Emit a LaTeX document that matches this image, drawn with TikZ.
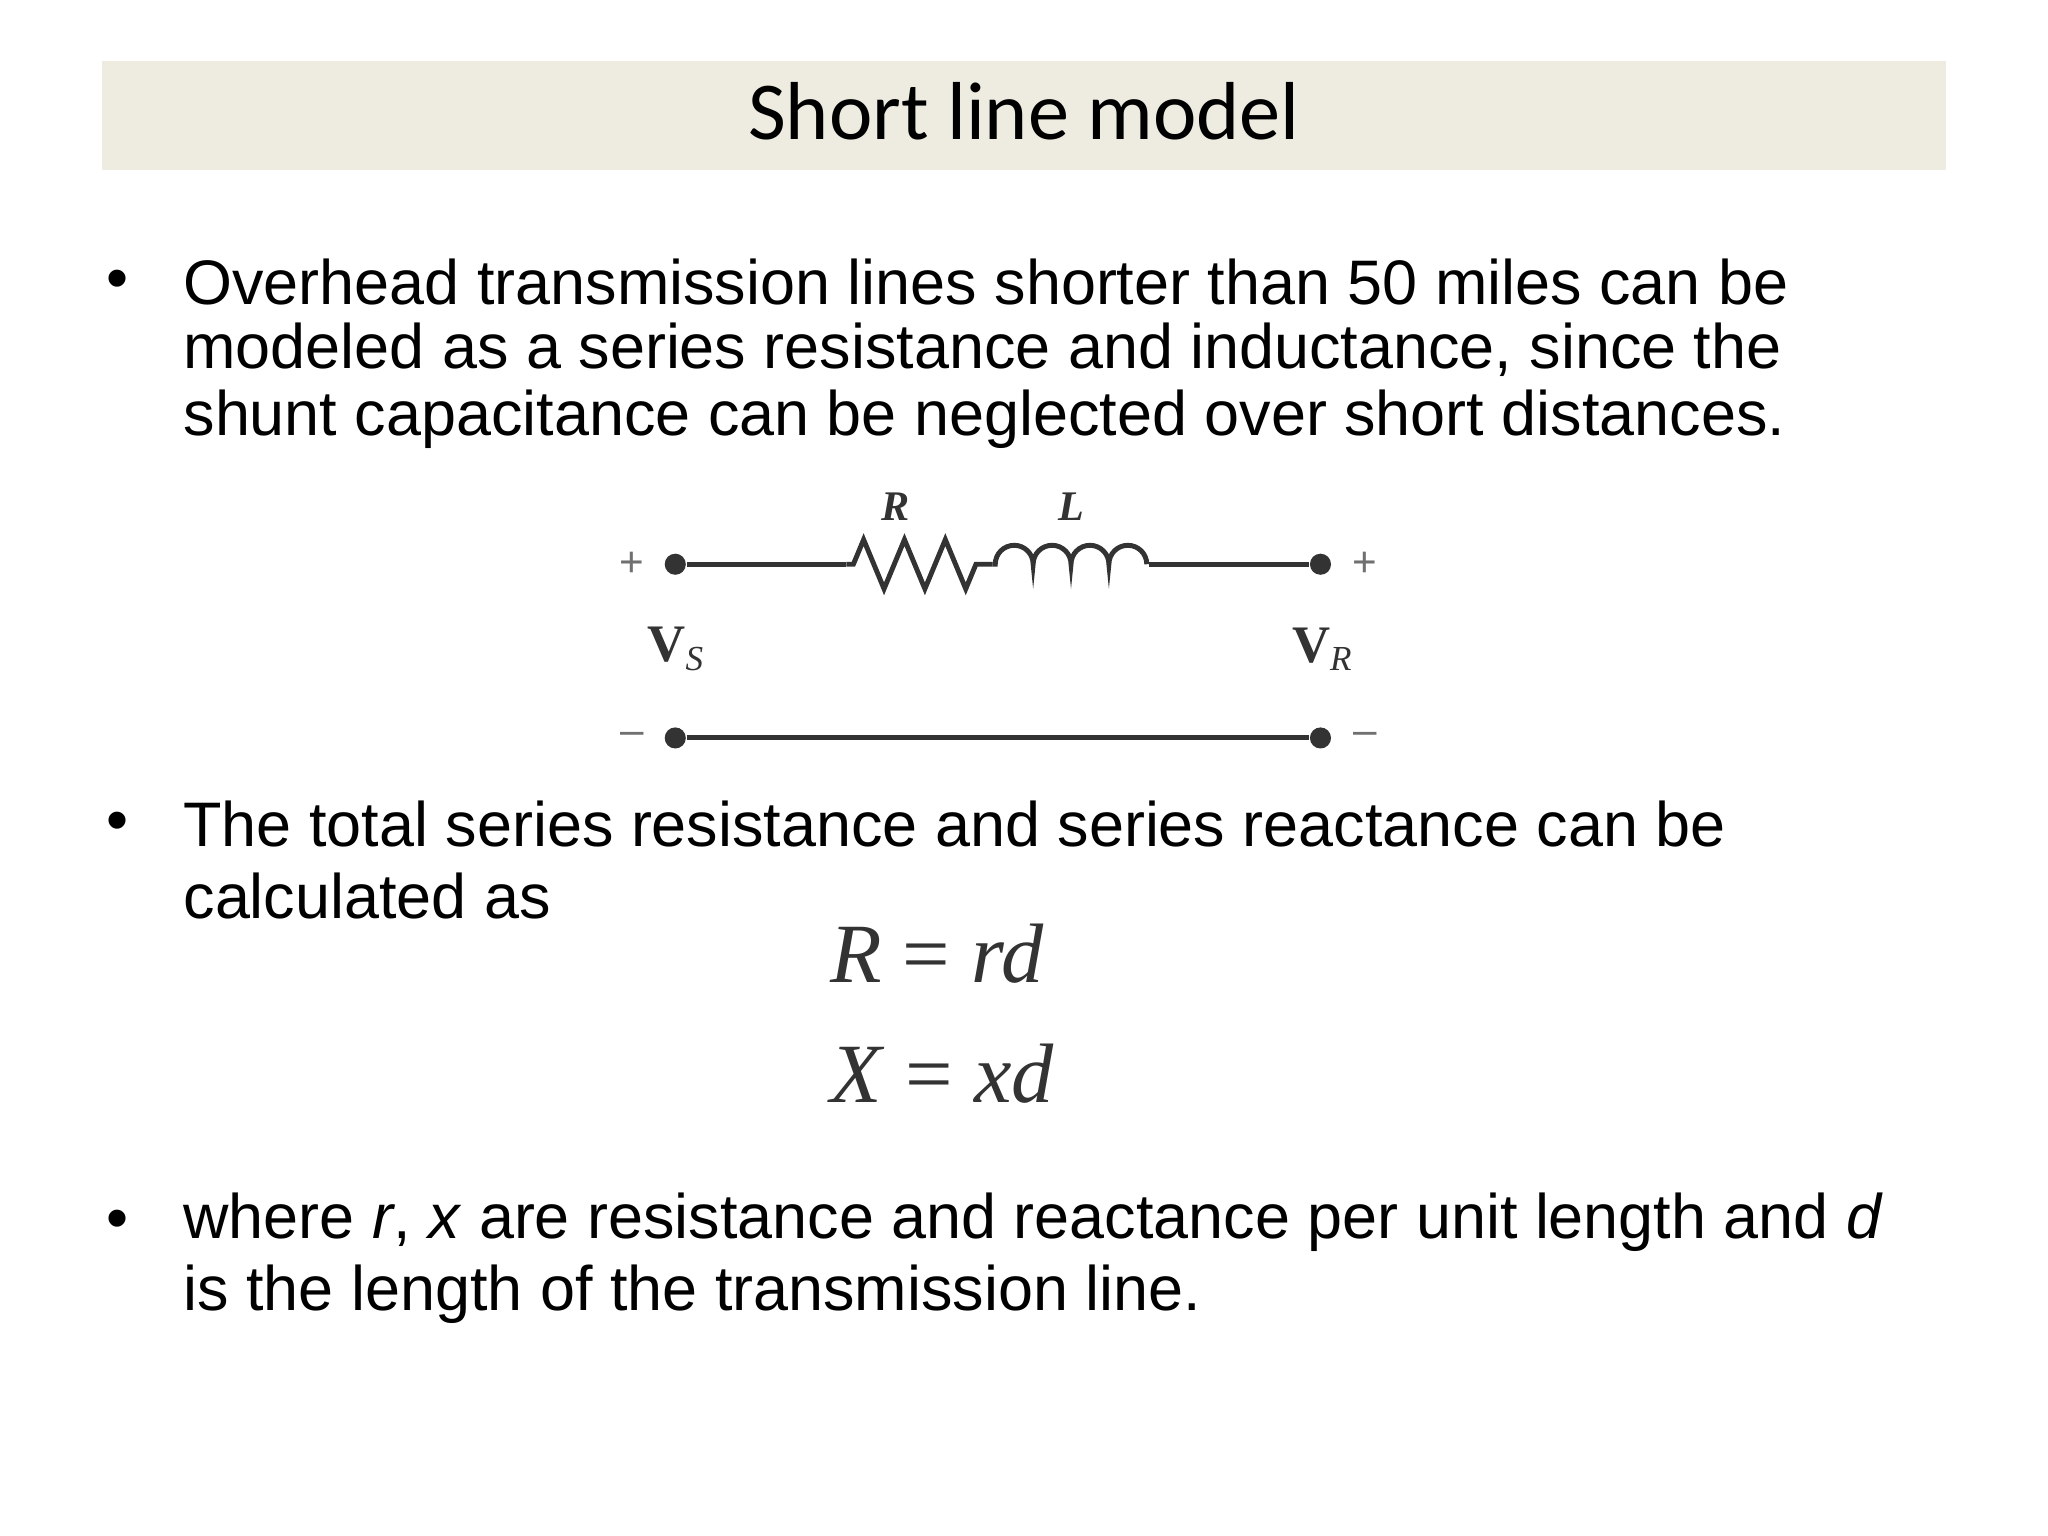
\documentclass[tikz,border=0pt]{standalone}
\usepackage{fontspec}
\setmainfont{Liberation Sans}
\newfontfamily\titlefont{Carlito}
\newfontfamily\eqfont{Liberation Serif}
\usetikzlibrary{decorations.pathmorphing}
\definecolor{band}{HTML}{EEECE1}
\definecolor{circ}{HTML}{333333}
\begin{document}
\begin{tikzpicture}[x=0.013061cm,y=-0.013061cm,
  body/.style={anchor=west,font=\fontsize{17.9}{21}\selectfont,inner sep=0},
  bul/.style={font=\fontsize{17.9}{21}\selectfont,inner sep=0},
  wire/.style={circ,line width=1.4pt},
  term/.style={circle,fill=circ,inner sep=0,minimum size=6pt},
  pm/.style={circ!70,font=\fontsize{12}{12}\selectfont,inner sep=0},
  eq/.style={circ,font=\eqfont\fontsize{24}{24}\selectfont,anchor=west,inner sep=0}]
\useasboundingbox (0,0) rectangle (1568,1176);
\fill[white] (0,0) rectangle (1568,1176);
\fill[band] (78,47) rectangle (1490,130);
\node[font=\titlefont\fontsize{23.4}{24}\selectfont] (title) at (784,85) {Short line model};
% bullet 1
\node[bul] (b1) at (90,218) {•};
\node[body] (t1a) at (140,216) {Overhead transmission lines shorter than 50 miles can be};
\node[body] (t1b) at (140,268) {modeled as a series resistance and inductance, since the};
\node[body] (t1c) at (140,321) {shunt capacitance can be neglected over short distances.};
% circuit
\node[term] (s1) at (517,432) {};
\node[term] (r1) at (1011,432) {};
\node[term] (s2) at (517,565) {};
\node[term] (r2) at (1011,565) {};
\coordinate (ra) at (648,432);
\coordinate (rb) at (760,432);
\coordinate (lb) at (880,432);
\draw[wire] (s1) -- (ra);
\draw[wire,decorate,decoration={zigzag,segment length=18.6pt/1.6,amplitude=7pt,pre length=2pt,post length=2pt}] (ra) -- (rb);
\draw[wire] (rb) -- ++(2,0) \foreach \i in {0,...,3}{ arc[start angle=180,end angle=360,radius=14.5] };
\draw[wire] (lb) -- (r1);
\draw[wire] (s2) -- (r2);
\node[circ,font=\eqfont\itshape\bfseries\fontsize{12}{12}\selectfont] (lR) at (686,388) {R};
\node[circ,font=\eqfont\itshape\bfseries\fontsize{12}{12}\selectfont] (lL) at (820,388) {L};
\node[pm] (p1) at (484,432) {+};
\node[pm] (p2) at (1045,432) {+};
\node[pm] (m1) at (484,565) {--};
\node[pm] (m2) at (1045,565) {--};
\node[circ,font=\eqfont\fontsize{15}{15}\selectfont] (vs) at (517,497) {\textbf{V}\raisebox{-0.35ex}{\fontsize{10}{10}\selectfont\itshape S}};
\node[circ,font=\eqfont\fontsize{15}{15}\selectfont] (vr) at (1012,497) {\textbf{V}\raisebox{-0.35ex}{\fontsize{10}{10}\selectfont\itshape R}};
% bullet 2
\node[bul] (b2) at (90,633) {•};
\node[body] (t2a) at (140,631) {The total series resistance and series reactance can be};
\node[body] (t2b) at (140,686) {calculated as};
\node[eq] (e1) at (635,730) {\textit{R} = \textit{rd}};
\node[eq] (e2) at (635,822) {\textit{X} = \textit{xd}};
% bullet 3
\node[bul] (b3) at (90,938) {•};
\node[body] (t3a) at (140,936) {where \textit{r}, \textit{x} are resistance and reactance per unit length and \textit{d}};
\node[body] (t3b) at (140,991) {is the length of the transmission line.};
\end{tikzpicture}
\end{document}
